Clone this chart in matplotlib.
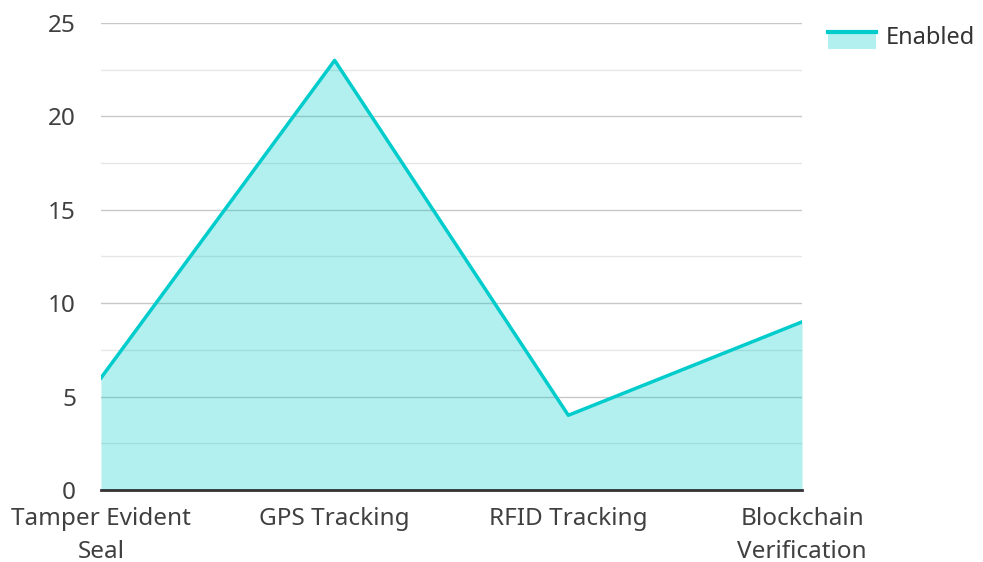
import matplotlib
matplotlib.use('Agg')
import matplotlib.pyplot as plt
from matplotlib.patches import Rectangle
from matplotlib.lines import Line2D
from matplotlib.legend_handler import HandlerBase

categories = ['Tamper Evident\nSeal', 'GPS Tracking', 'RFID Tracking', 'Blockchain\nVerification']
enabled = [6, 23, 4, 9]
y_ticks = [0, 5, 10, 15, 20, 25]

LINE = '#00cccc'

plt.rcParams['font.family'] = ['Noto Sans', 'DejaVu Sans']


class AreaHandler(HandlerBase):
    # filled box with the line on its top edge
    def create_artists(self, legend, orig, x0, y0, width, height, fontsize, trans):
        box = Rectangle((x0, y0 - height * 0.3), width, height * 1.1,
                        facecolor=LINE, alpha=0.3, edgecolor='none', transform=trans)
        top = Line2D([x0, x0 + width], [y0 + height * 0.7, y0 + height * 0.7],
                     color=LINE, lw=3, transform=trans)
        return [box, top]


fig = plt.figure(figsize=(9.83, 5.62), dpi=100)
ax = fig.add_axes([0.1027, 0.1281, 0.7132, 0.831])

x = list(range(len(categories)))
ax.fill_between(x, enabled, 0, color=LINE, alpha=0.3, lw=0, zorder=2)
ax.plot(x, enabled, color=LINE, lw=2.5, zorder=3, label='Enabled')

ax.set_xlim(0, len(categories) - 1)
ax.set_ylim(0, 25)
ax.set_yticks(y_ticks)
ax.set_yticks([2.5, 7.5, 12.5, 17.5, 22.5], minor=True)
ax.set_xticks(x)
ax.set_xticklabels(categories, linespacing=1.5)

ax.grid(axis='y', which='major', color='#c8c8c8', lw=1, zorder=1)
ax.grid(axis='y', which='minor', color='#e6e6e6', lw=1, zorder=1)
ax.set_axisbelow(True)

for s in ['top', 'right', 'left']:
    ax.spines[s].set_visible(False)
ax.spines['bottom'].set_color('#333333')
ax.spines['bottom'].set_linewidth(2)
ax.spines['bottom'].set_zorder(4)

ax.tick_params(axis='both', which='both', length=0, labelsize=17.5, colors='#404040')
ax.tick_params(axis='y', pad=18)
ax.tick_params(axis='x', pad=12)

handle = Line2D([], [], color=LINE)
fig.legend([handle], ['Enabled'], handler_map={Line2D: AreaHandler()},
           loc='upper left', bbox_to_anchor=(0.821, 0.992), frameon=False,
           fontsize=17, handlelength=2.0, handletextpad=0.45, labelcolor='#333333')

fig.savefig('out.png', dpi=100)
